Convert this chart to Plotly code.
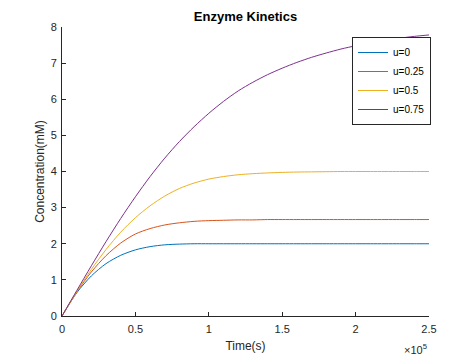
import plotly.graph_objects as go

# time in units of 1e5 s (axis shows x10^5)
time_e5 = [0, 0.1, 0.2, 0.3, 0.4, 0.5, 0.6, 0.7, 0.8, 0.9, 1.0, 1.1, 1.2, 1.3,
           1.4, 1.5, 1.6, 1.7, 1.8, 1.9, 2.0, 2.1, 2.2, 2.3, 2.4, 2.5]

u_0 = [0, 0.64, 1.11, 1.45, 1.68, 1.83, 1.92, 1.97, 1.99, 2.00, 2.00, 2.00, 2.00,
       2.00, 2.00, 2.00, 2.00, 2.00, 2.00, 2.00, 2.00, 2.00, 2.00, 2.00, 2.00, 2.00]
u_025 = [0, 0.66, 1.22, 1.67, 2.02, 2.27, 2.42, 2.52, 2.58, 2.62, 2.64, 2.65, 2.66,
         2.66, 2.67, 2.67, 2.67, 2.67, 2.67, 2.67, 2.67, 2.67, 2.67, 2.67, 2.67, 2.67]
u_05 = [0, 0.67, 1.29, 1.84, 2.32, 2.72, 3.05, 3.32, 3.53, 3.68, 3.79, 3.86, 3.91,
        3.94, 3.96, 3.975, 3.985, 3.99, 3.995, 4.00, 4.00, 4.00, 4.00, 4.00, 4.00, 4.00]
u_075 = [0, 0.70, 1.39, 2.06, 2.70, 3.30, 3.86, 4.37, 4.83, 5.24, 5.61, 5.94, 6.23,
         6.47, 6.68, 6.86, 7.02, 7.16, 7.28, 7.39, 7.48, 7.56, 7.63, 7.69, 7.74, 7.78]

series_names = ["u=0", "u=0.25", "u=0.5", "u=0.75"]
series_colors = ["#0072BD", "#D95319", "#EDB120", "#7E2F8E"]

x_tickvals = [0, 0.5, 1, 1.5, 2, 2.5]
x_ticktext = ["0", "0.5", "1", "1.5", "2", "2.5"]
y_tickvals = [0, 1, 2, 3, 4, 5, 6, 7, 8]

AX = "#262626"
FONT = "Liberation Sans, Arial, sans-serif"

# page body has an 8px default margin; figure sized so plot lands where the reference has it
W, H = 466, 347
L, R, T, B = 54, 45, 19, 39
plot_h = H - T - B

fig = go.Figure()
for name, ys, col in zip(series_names, [u_0, u_025, u_05, u_075], series_colors):
    fig.add_trace(go.Scatter(x=time_e5, y=ys, mode="lines", name=name,
                             line=dict(color=col, width=1, shape="spline", smoothing=0.8)))

fig.update_layout(
    width=W, height=H,
    margin=dict(l=L, r=R, t=T, b=B, autoexpand=False),
    paper_bgcolor="white", plot_bgcolor="white",
    font=dict(family=FONT, color=AX, size=11),
    title=dict(text="<b>Enzyme Kinetics</b>", x=(L + W - R) / 2 / W, xanchor="center",
               y=1 - 8 / H, yanchor="middle", font=dict(size=13, color="black")),
    showlegend=True,
    legend=dict(x=(352 - 62) / 367, y=1 - 10 / plot_h, xanchor="left", yanchor="top",
                bgcolor="white", bordercolor=AX, borderwidth=1,
                font=dict(size=10, color="black"), tracegroupgap=0, itemwidth=30),
)
fig.update_xaxes(range=[0, 2.5], tickvals=x_tickvals, ticktext=x_ticktext,
                 ticks="inside", ticklen=4, tickcolor=AX, showline=True, linecolor=AX,
                 linewidth=1, showgrid=False, zeroline=False, mirror=False,
                 automargin=False, ticklabelstandoff=3,
                 title=dict(text="Time(s)", font=dict(size=12), standoff=7),
                 tickfont=dict(size=11))
fig.update_yaxes(range=[0, 8], tickvals=y_tickvals,
                 ticks="inside", ticklen=4, tickcolor=AX, showline=True, linecolor=AX,
                 linewidth=1, showgrid=False, zeroline=False, mirror=False,
                 automargin=False, ticklabelstandoff=2,
                 title=dict(text="Concentration(mM)", font=dict(size=12), standoff=3),
                 tickfont=dict(size=11))
fig.add_annotation(text="×10<sup>5</sup>", x=1, xref="paper", xanchor="right",
                   y=-(341 - (H - B)) / plot_h, yref="paper", yanchor="middle",
                   showarrow=False, font=dict(size=11, color=AX))
fig.write_html("out.html")
